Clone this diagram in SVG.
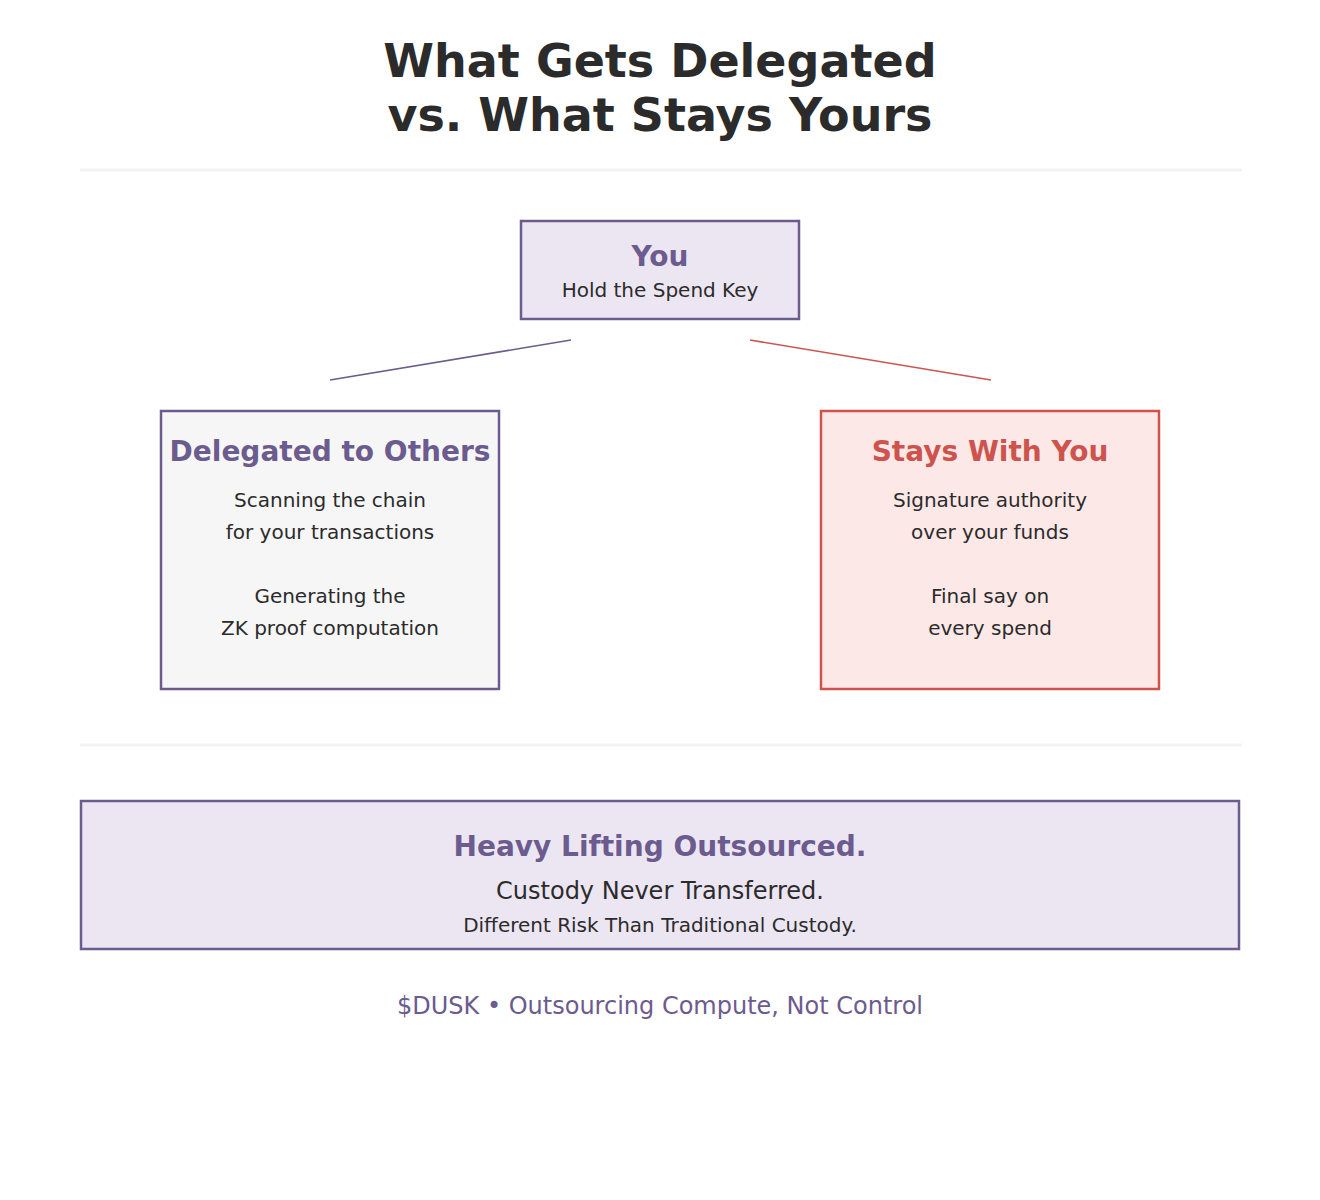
<svg xmlns="http://www.w3.org/2000/svg" width="1320" height="1200" viewBox="0 0 1320 1200">
<style>
text{font-family:"DejaVu Sans",sans-serif;text-anchor:middle}
.title{font-size:46px;font-weight:bold;fill:#2b2b2b}
.h{font-size:28px;font-weight:bold}
.p{fill:#6b5b8e}
.r{fill:#cd534c}
.b{font-size:20px;fill:#2b2b2b}
.sep{stroke:#f3f3f3;stroke-width:3}
</style>
<rect width="1320" height="1200" fill="#ffffff"/>
<g id="title">
<text class="title" x="660" y="77">What Gets Delegated</text>
<text class="title" x="660" y="131">vs. What Stays Yours</text>
</g>
<line class="sep" x1="80" y1="170" x2="1242" y2="170"/>
<g id="you">
<rect x="521" y="221" width="278" height="98" fill="#ece6f3" stroke="#6b5b8e" stroke-width="2.5"/>
<text class="h p" x="660" y="266">You</text>
<text class="b" x="660" y="297">Hold the Spend Key</text>
</g>
<g id="connectors">
<line x1="571" y1="340" x2="330" y2="380" stroke="#6b5b8e" stroke-width="1.6"/>
<line x1="750" y1="340" x2="991" y2="380" stroke="#c9574f" stroke-width="1.6"/>
</g>
<g id="delegated">
<rect x="161" y="411" width="338" height="278" fill="#f6f6f6" stroke="#6b5b8e" stroke-width="2.5"/>
<text class="h p" x="330" y="461">Delegated to Others</text>
<text class="b" x="330" y="507">Scanning the chain</text>
<text class="b" x="330" y="539">for your transactions</text>
<text class="b" x="330" y="603">Generating the</text>
<text class="b" x="330" y="635">ZK proof computation</text>
</g>
<g id="stays">
<rect x="821" y="411" width="338" height="278" fill="#fde8e8" stroke="#cd534c" stroke-width="2.5"/>
<text class="h r" x="990" y="461">Stays With You</text>
<text class="b" x="990" y="507">Signature authority</text>
<text class="b" x="990" y="539">over your funds</text>
<text class="b" x="990" y="603">Final say on</text>
<text class="b" x="990" y="635">every spend</text>
</g>
<line class="sep" x1="80" y1="745" x2="1242" y2="745"/>
<g id="summary">
<rect x="81" y="801" width="1158" height="148" fill="#ece6f3" stroke="#6b5b8e" stroke-width="2.5"/>
<text class="h p" x="660" y="856">Heavy Lifting Outsourced.</text>
<text x="660" y="899" font-size="24" fill="#2b2b2b">Custody Never Transferred.</text>
<text x="660" y="932" font-size="20" fill="#2b2b2b">Different Risk Than Traditional Custody.</text>
</g>
<g id="footer">
<text x="660" y="1014" font-size="24" class="p">$DUSK • Outsourcing Compute, Not Control</text>
</g>
</svg>
